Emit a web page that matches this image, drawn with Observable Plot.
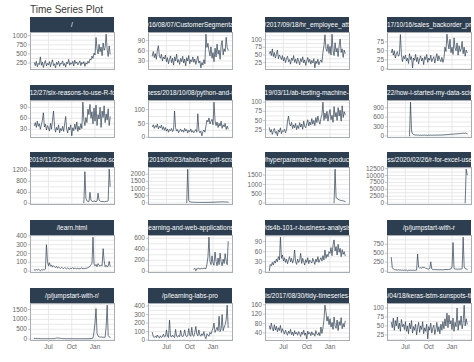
<!DOCTYPE html>
<html><head><meta charset="utf-8">
<script src="https://cdn.jsdelivr.net/npm/d3@7"></script>
<script src="https://cdn.jsdelivr.net/npm/@observablehq/plot@0.6"></script>
<style>
body{margin:0;background:#fff;}
#chart{position:relative;width:474px;height:362px;overflow:hidden;font-family:"Liberation Sans",Arial,sans-serif;background:#fff;}
.title{position:absolute;left:30px;top:4px;font-size:10px;color:#3a3a3a;white-space:nowrap;}
.strip{position:absolute;width:84px;height:15px;background:#2c3e50;display:flex;justify-content:center;align-items:center;overflow:hidden;}
.strip span{flex:none;white-space:nowrap;color:#fff;font-size:6.5px;}
.panel{position:absolute;}
</style></head><body>
<div id="chart"><div class="title">Time Series Plot</div></div>
<script>
const labels = [
  "/",
  "/business/2016/08/07/CustomerSegmentationPt1.html",
  "/business/2017/09/18/hr_employee_attrition.html",
  "/business/2017/10/16/sales_backorder_prediction.html",
  "/business/2017/12/27/six-reasons-to-use-R-for-business.html",
  "/business/2018/10/08/python-and-r.html",
  "/business/2019/03/11/ab-testing-machine-learning.html",
  "/business/2019/07/22/how-i-started-my-data-science-business.html",
  "/business/2019/11/22/docker-for-data-science.html",
  "/business/2019/09/23/tabulizer-pdf-scraping.html",
  "/business/2020/01/21/hyperparamater-tune-product-price-prediction.html",
  "/business/2020/02/26/r-for-excel-users.html",
  "/learn.html",
  "/p/machine-learning-and-web-applications-r-track-101",
  "/p/ds4b-101-r-business-analysis-r",
  "/p/jumpstart-with-r",
  "/p/jumpstart-with-r/",
  "/p/learning-labs-pro",
  "/timeseries-analysis/2017/08/30/tidy-timeseries-analysis-pt-4.html",
  "/timeseries-analysis/2018/04/18/keras-lstm-sunspots-time-series-prediction.html"
];
const startDates = [
  "2019-05-06","2019-05-06","2019-05-06","2019-05-06",
  "2019-05-06","2019-05-06","2019-05-06","2019-07-17",
  "2019-11-18","2019-09-19","2020-01-17","2020-02-22",
  "2019-05-06","2019-10-17","2019-05-06","2019-05-06",
  "2019-05-06","2019-05-06","2019-05-06","2019-05-06"
];
const stepDays = 4;
const xDomain = ["2019-04-21", "2020-03-18"];
const xTickDates = ["2019-07-01", "2019-10-01", "2020-01-01"];
const xTickLabels = ["Jul", "Oct", "Jan"];
const yTicks = [
  [250,500,750,1000],[30,60,90],[25,50,75,100],[0,25,50,75],
  [30,60,90],[0,50,100],[25,50,75,100],[0,300,600,900],
  [0,400,800,1200],[0,500,1000,1500,2000],[0,500,1000,1500],[0,2500,5000,7500,10000,12500],
  [0,100,200,300,400],[0,200,400,600],[0,30,60,90],[0,250,500,750],
  [0,500,1000,1500],[0,100,200,300,400],[40,80,120,160],[25,50,75,100]
];
const s01 = [260,180,300,150,240,210,420,190,280,130,250,320,170,240,
 200,290,150,260,340,180,230,120,270,210,300,160,250,220,
 310,180,240,140,280,230,350,190,260,220,300,170,330,240,
 280,200,250,310,180,270,230,290,160,260,220,300,250,360,
 330,440,380,520,
 470,950,640,500,760,560,690,450,800,600,680,1040,620,430,720,500];
const s02 = [45,58,40,52,35,62,75,44,38,50,30,42,36,48,
 28,40,22,35,45,25,38,18,42,30,50,26,34,20,
 38,28,44,24,36,16,40,30,46,22,34,28,42,26,
 36,20,32,44,24,30,10,26,18,34,22,109,70,82,
 60,45,72,38,
 55,28,68,42,80,50,62,35,75,90,48,66,58,100,70,62];
const s03 = [55,62,48,70,45,58,40,52,66,38,50,44,35,48,
 30,42,25,38,46,28,35,20,40,32,48,26,36,22,
 40,30,18,38,28,44,24,34,16,30,42,26,36,20,
 32,24,38,8,30,22,36,18,28,34,26,58,80,116,
 70,62,85,55,
 78,50,118,65,48,90,60,72,45,80,102,58,70,42,66,55];
const s04 = [45,55,38,50,30,42,48,35,40,95,40,20,35,28,
 38,22,30,15,42,26,34,3,30,24,40,20,32,14,
 28,36,22,30,12,34,26,40,18,30,24,38,20,28,
 34,16,30,42,22,36,26,20,32,18,28,60,48,96,
 70,55,82,45,
 60,40,86,58,50,72,38,64,48,55,76,42,60,35,52,45];
const s05 = [40,48,35,52,38,45,30,42,55,75,36,44,28,40,
 34,25,46,30,55,80,38,22,35,28,42,20,32,26,
 38,24,45,65,30,20,36,28,42,12,34,26,44,30,
 50,24,38,28,45,32,104,55,40,62,48,85,70,98,
 60,78,45,88,
 52,96,40,70,58,90,35,80,62,94,48,72,55,86,40,64];
const s06 = [38,45,32,42,36,48,30,40,34,44,28,38,25,35,
 22,30,18,28,24,32,20,26,95,35,22,28,16,24,
 30,20,26,18,32,22,28,15,25,20,30,18,24,16,
 22,28,18,85,24,16,22,5,20,26,18,40,62,55,
 70,48,58,65,
 45,127,60,42,55,35,50,40,58,32,45,38,50,28,40,30];
const s07 = [30,18,25,12,22,28,15,20,8,24,18,30,14,22,
 20,26,16,24,48,62,40,35,45,28,38,30,42,25,
 36,28,44,32,40,26,48,34,30,42,52,35,46,38,
 55,40,50,36,58,44,62,48,40,56,66,100,50,70,
 55,75,48,68,
 80,52,64,45,88,60,72,50,85,62,78,48,90,58,74,66];
const s08 = [5,1080,160,70,45,38,30,34,25,30,22,28,20,26,24,30,22,26,20,28,24,30,22,26,30,24,28,32,26,30,34,28,36,30,40,35,45,40,50,46,55,60,52,66,58,70,62,75,68,80,72,85,78,90,82,95,80,70];
const s09 = [20,1150,180,90,70,60,400,110,80,65,90,75,60,85,370,120,80,70,60,75,55,65,80,70,95,1240,620];
const s10 = [10,2350,160,90,70,55,60,45,50,40,48,42,38,45,40,35,42,38,44,36,40,48,42,50,45,55,48,60,52,58,65,70,62,75,80,68,85,72,64,78,60,55];
const s11 = [10,1820,290,240,200,170,150,130,140,110,95,80];
const s12 = [80,12300,10300];
const s13 = [15,10,18,12,20,14,3,16,12,20,15,22,300,110,
 60,95,55,70,45,60,50,40,55,35,45,38,30,42,
 35,28,40,32,25,36,30,22,34,28,40,25,32,30,
 26,35,22,30,28,38,24,32,26,35,30,40,45,55,
 70,90,385,80,
 60,75,50,85,65,55,70,60,255,120,50,65,45,60,110,55];
const s14 = [40,55,8,50,45,60,35,50,55,40,60,50,45,130,260,620,180,120,280,150,110,350,180,100,240,120,330,170,100,220,140,320,180,120,540];
const s15 = [3,22,18,28,20,32,26,38,30,45,35,103,40,50,
 32,42,28,38,24,36,45,30,40,26,35,65,30,22,
 38,28,34,55,25,40,30,20,36,28,42,24,35,30,
 26,40,32,22,38,30,45,28,36,42,32,48,35,65,
 40,52,45,60,
 55,72,48,80,95,62,75,50,82,58,70,45,66,52,60,48];
const s16 = [380,90,60,45,40,35,30,38,28,32,25,30,22,28,
 25,30,8,26,22,28,24,20,26,22,25,30,480,110,
 85,95,80,120,90,100,75,70,60,55,70,260,60,45,
 40,50,38,45,35,42,36,40,38,32,45,40,48,42,
 50,45,55,60,
 120,800,70,55,60,50,58,52,60,55,65,950,120,70,60,50];
const s17 = [40,30,35,25,30,28,22,26,20,24,18,22,20,25,
 22,18,24,20,26,22,30,40,55,60,50,45,38,30,
 26,22,25,20,18,22,20,24,18,20,22,18,20,16,
 18,15,20,16,18,14,16,20,15,18,16,20,18,22,
 25,30,60,380,
 820,1550,300,150,120,100,110,90,100,85,95,650,1720,180,110,90];
const s18 = [90,40,30,45,28,60,35,25,50,30,40,70,35,45,
 120,45,30,235,50,35,60,40,30,125,45,35,55,40,
 115,50,38,60,120,55,40,50,135,60,45,150,55,45,
 90,160,70,50,120,60,45,75,55,100,40,15,75,60,
 45,90,70,110,
 140,200,90,120,150,110,280,100,130,300,110,150,180,240,410,150];
const s19 = [70,55,82,60,48,75,52,68,45,62,50,72,42,58,
 45,35,52,40,30,48,38,55,32,44,28,50,36,42,
 30,46,38,25,44,34,52,30,40,15,48,35,42,28,
 45,32,38,26,50,36,30,42,28,65,38,60,95,158,
 130,90,110,75,
 100,65,85,55,108,70,60,95,50,88,72,105,58,80,65,90];
const s20 = [60,45,72,38,65,50,75,42,58,35,68,48,55,40,
 62,35,50,28,58,42,65,30,48,38,55,25,45,60,
 32,50,40,62,28,45,35,55,14,48,38,58,30,44,
 52,26,40,60,34,48,28,55,38,62,42,70,50,86,
 45,80,55,65,
 40,72,35,60,48,100,38,65,52,78,42,60,108,50,70,55];
const series = [s01,s02,s03,s04,s05,s06,s07,s08,s09,s10,s11,s12,s13,s14,s15,s16,s17,s18,s19,s20];

const chart = document.getElementById("chart");
const colLeft = [30, 148, 265, 387];
const rowTop = [17, 85, 152, 220, 288];
const panelW = 84, stripH = 15, panelH = 37;
const gridColor = "#e3e3e3", borderColor = "#a7adb3", textColor = "#666";
const xDom = xDomain.map(d => new Date(d));
const xTicks = xTickDates.map(d => new Date(d));

series.forEach((vals, i) => {
  const c = i % 4, r = Math.floor(i / 4);
  const start = new Date(startDates[i]);
  const data = vals.map((v, j) => ({date: d3.utcDay.offset(start, j * stepDays), value: v}));
  const [mn, mx] = d3.extent(vals);
  const pad = (mx - mn) * 0.05;
  const yDom = [mn - pad, mx + pad];
  const inside = v => v >= yDom[0] && v <= yDom[1];
  const ticks = yTicks[i].filter(inside);
  const st = yTicks[i][1] - yTicks[i][0];
  const minor = [yTicks[i][0] - st / 2, ...yTicks[i].map(t => t + st / 2)].filter(inside);
  const bottom = r === 4;
  const mL = 30, mT = 1, mR = 1, mB = bottom ? 14 : 1;

  const strip = document.createElement("div");
  strip.className = "strip";
  strip.style.left = colLeft[c] + "px";
  strip.style.top = rowTop[r] + "px";
  const sp = document.createElement("span");
  sp.textContent = labels[i];
  strip.appendChild(sp);
  chart.appendChild(strip);

  const plot = Plot.plot({
    width: mL + panelW + mR, height: mT + panelH + mB,
    marginLeft: mL, marginTop: mT, marginRight: mR, marginBottom: mB,
    x: {type: "utc", domain: xDom, axis: null},
    y: {domain: yDom, axis: null},
    style: {background: "transparent", fontSize: "6.5px", fontFamily: "Liberation Sans, Arial, sans-serif", color: textColor, overflow: "visible"},
    marks: [
      Plot.ruleY(minor, {stroke: gridColor, strokeWidth: 0.8}),
      Plot.ruleY(ticks, {stroke: gridColor, strokeWidth: 0.8}),
      Plot.ruleX(xTicks, {stroke: gridColor, strokeWidth: 0.8}),
      Plot.lineY(data, {x: "date", y: "value", stroke: "#2c3e50", strokeWidth: 0.7}),
      Plot.frame({stroke: borderColor}),
      Plot.axisY(ticks, {label: null, tickSize: 2, tickPadding: 1.5, stroke: "#c8c8c8", fill: textColor, tickFormat: d => String(d)}),
      bottom ? Plot.axisX(xTicks, {label: null, tickSize: 2, tickPadding: 1.5, stroke: "#c8c8c8", fill: textColor,
        tickFormat: d => xTickLabels[xTicks.findIndex(t => +t === +d)]}) : null
    ]
  });
  const wrap = document.createElement("div");
  wrap.className = "panel";
  wrap.style.left = (colLeft[c] - mL) + "px";
  wrap.style.top = (rowTop[r] + stripH - mT) + "px";
  wrap.appendChild(plot);
  chart.appendChild(wrap);
});
</script>
</body></html>
